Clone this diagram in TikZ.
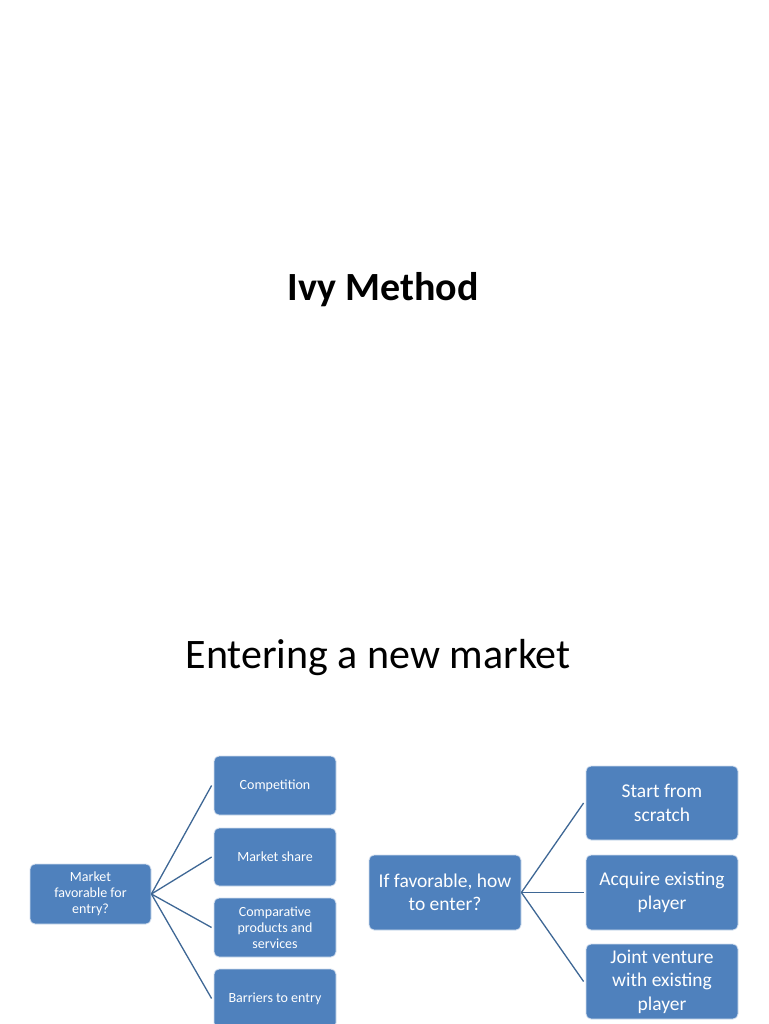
\documentclass[tikz,border=0pt]{standalone}
\usepackage{fontspec}
\setmainfont{Carlito}
\definecolor{boxblue}{HTML}{4F81BD}
\definecolor{linkblue}{HTML}{3E6795}
\tikzset{
  bx/.style={draw=white!75!boxblue, line width=0.8pt, fill=boxblue, rounded corners=5pt, text=white, align=center, inner sep=1pt},
  sm/.style={bx, font=\fontsize{14}{16}\selectfont},
  lg/.style={bx, font=\fontsize{19.5}{23.5}\selectfont},
  link/.style={draw=linkblue, line width=1.3pt}
}
\begin{document}
\begin{tikzpicture}[x=1pt,y=-1pt]
\clip (0,0) rectangle (768,1024);
\useasboundingbox (0,0) rectangle (768,1024);
\fill[white] (0,0) rectangle (768,1024);
\node[font=\fontsize{40}{46}\bfseries\selectfont] (t1) at (383,290) {Ivy Method};
\node[font=\fontsize{42}{48}\selectfont] (t2) at (378,658) {Entering a new market};
% left
\node[sm, minimum width=121pt, minimum height=60pt] (p1) at (90.5,894) {Market\\favorable for\\entry?};
\node[sm, minimum width=122pt, minimum height=59pt] (c1) at (275,785.5) {Competition};
\node[sm, minimum width=122pt, minimum height=58pt] (c2) at (275,857) {Market share};
\node[sm, minimum width=122pt, minimum height=59pt] (c3) at (275,927.5) {Comparative\\products and\\services};
\node[sm, minimum width=122pt, minimum height=59pt] (c4) at (275,998.5) {Barriers to entry};
\foreach \c in {c1,c2,c3,c4}{\draw[link] (p1.east) -- ([xshift=-2pt]\c.west);}
% right
\node[lg, minimum width=152pt, minimum height=75pt] (p2) at (445,892.5) {If favorable, how\\to enter?};
\node[lg, minimum width=152pt, minimum height=74pt] (d1) at (662,803) {Start from\\scratch};
\node[lg, minimum width=152pt, minimum height=75pt] (d2) at (662,892.5) {Acquire existing\\player};
\node[lg, minimum width=152pt, minimum height=75pt] (d3) at (662,981.5) {Joint venture\\with existing\\player};
\foreach \c in {d1,d2,d3}{\draw[link] (p2.east) -- ([xshift=-2pt]\c.west);}
\end{tikzpicture}
\end{document}
